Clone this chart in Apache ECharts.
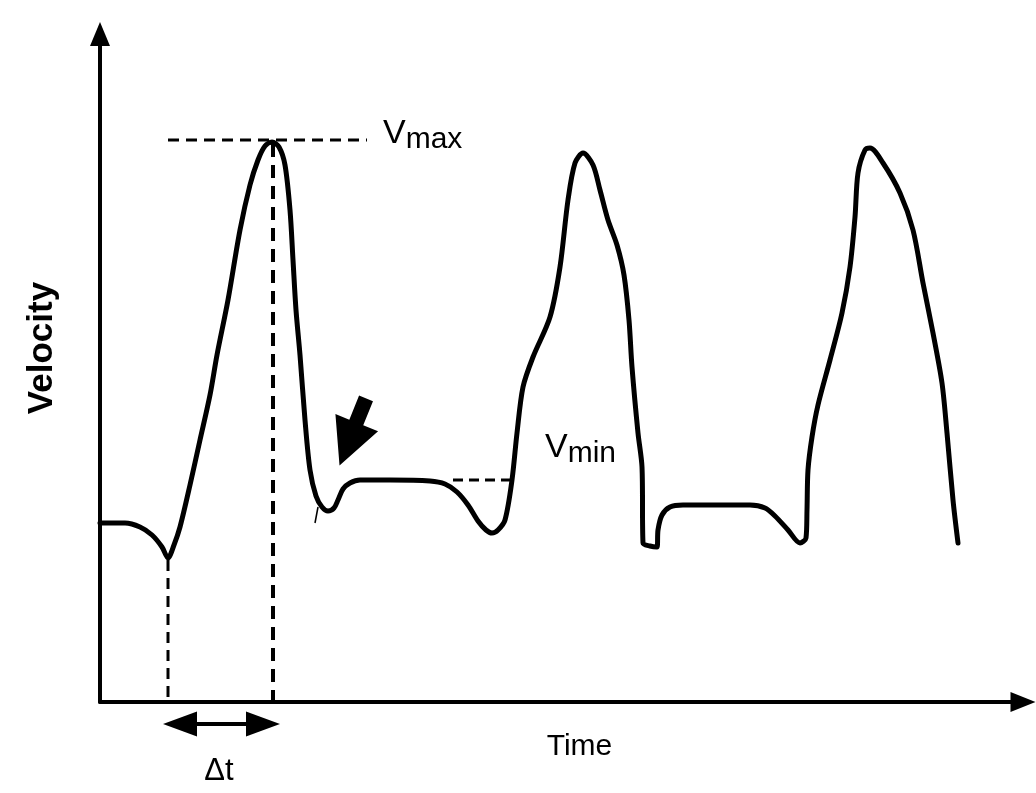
<!DOCTYPE html>
<html>
<head>
<meta charset="utf-8">
<script src="https://cdn.jsdelivr.net/npm/echarts@6/dist/echarts.min.js"></script>
<style>
  html, body { margin: 0; padding: 0; background: #fff; }
  #chart { width: 1036px; height: 793px; }
</style>
</head>
<body>
<div id="chart"></div>
<script>
// --- Datos (tiempo, velocidad en unidades del eje) ---
const waveTime = [0, 25, 40, 52, 62, 68, 74, 80, 90, 100, 110, 117, 128, 140, 150, 158, 165, 172, 179, 185, 190, 193, 196, 200, 205, 210, 216, 222, 228, 234, 238, 243, 250, 260, 290, 330, 345, 357, 368, 378, 386, 392, 398, 405, 412, 417, 423, 433, 450, 460, 468, 475, 483, 493, 500, 508, 517, 524, 529, 532, 538, 542, 543, 550, 557, 558, 562, 570, 583, 650, 665, 675, 688, 700, 706, 707, 708, 712, 718, 730, 742, 750, 755, 758, 765, 770, 783, 800, 813, 823, 833, 842, 847, 853, 858];
const waveVelocity = [179, 179, 175, 167, 155, 144, 157, 175, 217, 262, 307, 347, 402, 472, 517, 542, 556, 560, 555, 537, 492, 442, 392, 347, 282, 232, 206, 195, 191, 194, 202, 213, 219, 222, 222, 221, 218, 210, 197, 181, 172, 169, 172, 182, 222, 269, 315, 345, 385, 435, 502, 539, 549, 537, 512, 482, 457, 427, 382, 335, 269, 235, 159, 156, 155, 172, 187, 195, 197, 197, 194, 186, 172, 159, 164, 192, 232, 265, 297, 342, 389, 435, 485, 529, 552, 554, 539, 509, 472, 419, 369, 319, 269, 202, 159];

// líneas de referencia (discontinuas)
const vmaxLevel = 562;
const vmaxSpan = [68, 267];
const peakTime = 173;
const footTime = 68;
const footVelocity = 142;
const vminLevel = 222;
const vminSpan = [353, 410];

// flecha Δt bajo el eje
const deltaArrowTime = [80, 163];
const deltaArrowLevel = -22;

// flecha negra (muesca dicrota)
const notchArrow = [253, 270];

// textos
const xAxisName = 'Time';
const yAxisName = 'Velocity';
const deltaLabel = 'Δt';
const deltaLabelPos = [119, -69];
const vmaxLabelPos = [283, 568];
const vminLabelPos = [445, 254];

const FONT = "'Liberation Sans', Arial, sans-serif";
const BLACK = '#000';

const chart = echarts.init(document.getElementById('chart'));

const waveData = waveTime.map((t, i) => [t, waveVelocity[i]]);

const richV = {
    v: { fontSize: 34, fontFamily: FONT, color: BLACK },
    s: { fontSize: 30, fontFamily: FONT, color: BLACK, padding: [12, 0, 0, 0] }
};

chart.setOption({
    backgroundColor: '#fff',
    animation: false,
    grid: { left: 100, top: 34, right: 13, bottom: 91 },
    xAxis: {
        type: 'value',
        min: 0,
        max: 923,
        name: xAxisName,
        nameLocation: 'middle',
        nameGap: 30,
        nameTextStyle: { fontSize: 30, fontFamily: FONT, color: BLACK, padding: [0, 0, 0, 36] },
        axisLine: {
            show: true,
            onZero: false,
            symbol: ['none', 'triangle'],
            symbolSize: [20, 25],
            lineStyle: { color: BLACK, width: 4 }
        },
        axisTick: { show: false },
        axisLabel: { show: false },
        splitLine: { show: false }
    },
    yAxis: {
        type: 'value',
        min: 0,
        max: 668,
        name: yAxisName,
        nameLocation: 'middle',
        nameRotate: 90,
        nameGap: 40,
        nameTextStyle: { fontSize: 35, fontWeight: 'bold', fontFamily: FONT, color: BLACK, padding: [0, 0, 0, 40] },
        axisLine: {
            show: true,
            onZero: false,
            symbol: ['none', 'triangle'],
            symbolSize: [20, 24],
            lineStyle: { color: BLACK, width: 4 }
        },
        axisTick: { show: false },
        axisLabel: { show: false },
        splitLine: { show: false }
    },
    series: [
        {
            name: 'onda',
            type: 'line',
            data: waveData,
            showSymbol: false,
            symbol: 'none',
            smooth: 0.3,
            lineStyle: { color: BLACK, width: 5, join: 'round', cap: 'round' },
            z: 5
        },
        {
            name: 'vmax',
            type: 'line',
            data: [[vmaxSpan[0], vmaxLevel], [vmaxSpan[1], vmaxLevel]],
            symbol: 'none',
            lineStyle: { color: BLACK, width: 3, type: [11, 7] }
        },
        {
            name: 'pico',
            type: 'line',
            data: [[peakTime, vmaxLevel - 4], [peakTime, 2]],
            symbol: 'none',
            lineStyle: { color: BLACK, width: 4, type: [13, 8] }
        },
        {
            name: 'pie',
            type: 'line',
            data: [[footTime, footVelocity], [footTime, 2]],
            symbol: 'none',
            lineStyle: { color: BLACK, width: 3, type: [11, 7] }
        },
        {
            name: 'vmin',
            type: 'line',
            data: [[vminSpan[0], vminLevel], [vminSpan[1], vminLevel]],
            symbol: 'none',
            lineStyle: { color: BLACK, width: 3, type: [10, 6] }
        },
        {
            name: 'trazo',
            type: 'line',
            data: [[218, 195], [215, 179]],
            symbol: 'none',
            lineStyle: { color: BLACK, width: 1.5 }
        },
        {
            name: 'delta',
            type: 'line',
            clip: false,
            data: [
                { value: [deltaArrowTime[0], deltaArrowLevel], symbolRotate: 90 },
                { value: [deltaArrowTime[1], deltaArrowLevel], symbolRotate: -90 }
            ],
            symbol: 'triangle',
            symbolSize: [25, 34],
            showSymbol: true,
            itemStyle: { color: BLACK, opacity: 1 },
            lineStyle: { color: BLACK, width: 4 }
        },
        {
            name: 'flecha',
            type: 'scatter',
            data: [notchArrow],
            symbol: 'path://M15,0 L30,0 L30,26 L46,26 L23,72 L0,26 L15,26 Z',
            symbolSize: [46, 72],
            symbolRotate: -22,
            itemStyle: { color: BLACK, opacity: 1 }
        },
        {
            name: 'textos',
            type: 'scatter',
            clip: false,
            symbolSize: 0,
            itemStyle: { opacity: 1 },
            data: [
                {
                    value: vmaxLabelPos,
                    label: { show: true, color: BLACK, position: 'right', distance: 0, formatter: '{v|V}{s|max}', rich: richV }
                },
                {
                    value: vminLabelPos,
                    label: { show: true, color: BLACK, position: 'right', distance: 0, formatter: '{v|V}{s|min}', rich: richV }
                },
                {
                    value: deltaLabelPos,
                    label: { show: true, position: 'inside', formatter: deltaLabel, fontSize: 31, fontFamily: FONT, color: BLACK }
                }
            ]
        }
    ]
});
</script>
</body>
</html>
